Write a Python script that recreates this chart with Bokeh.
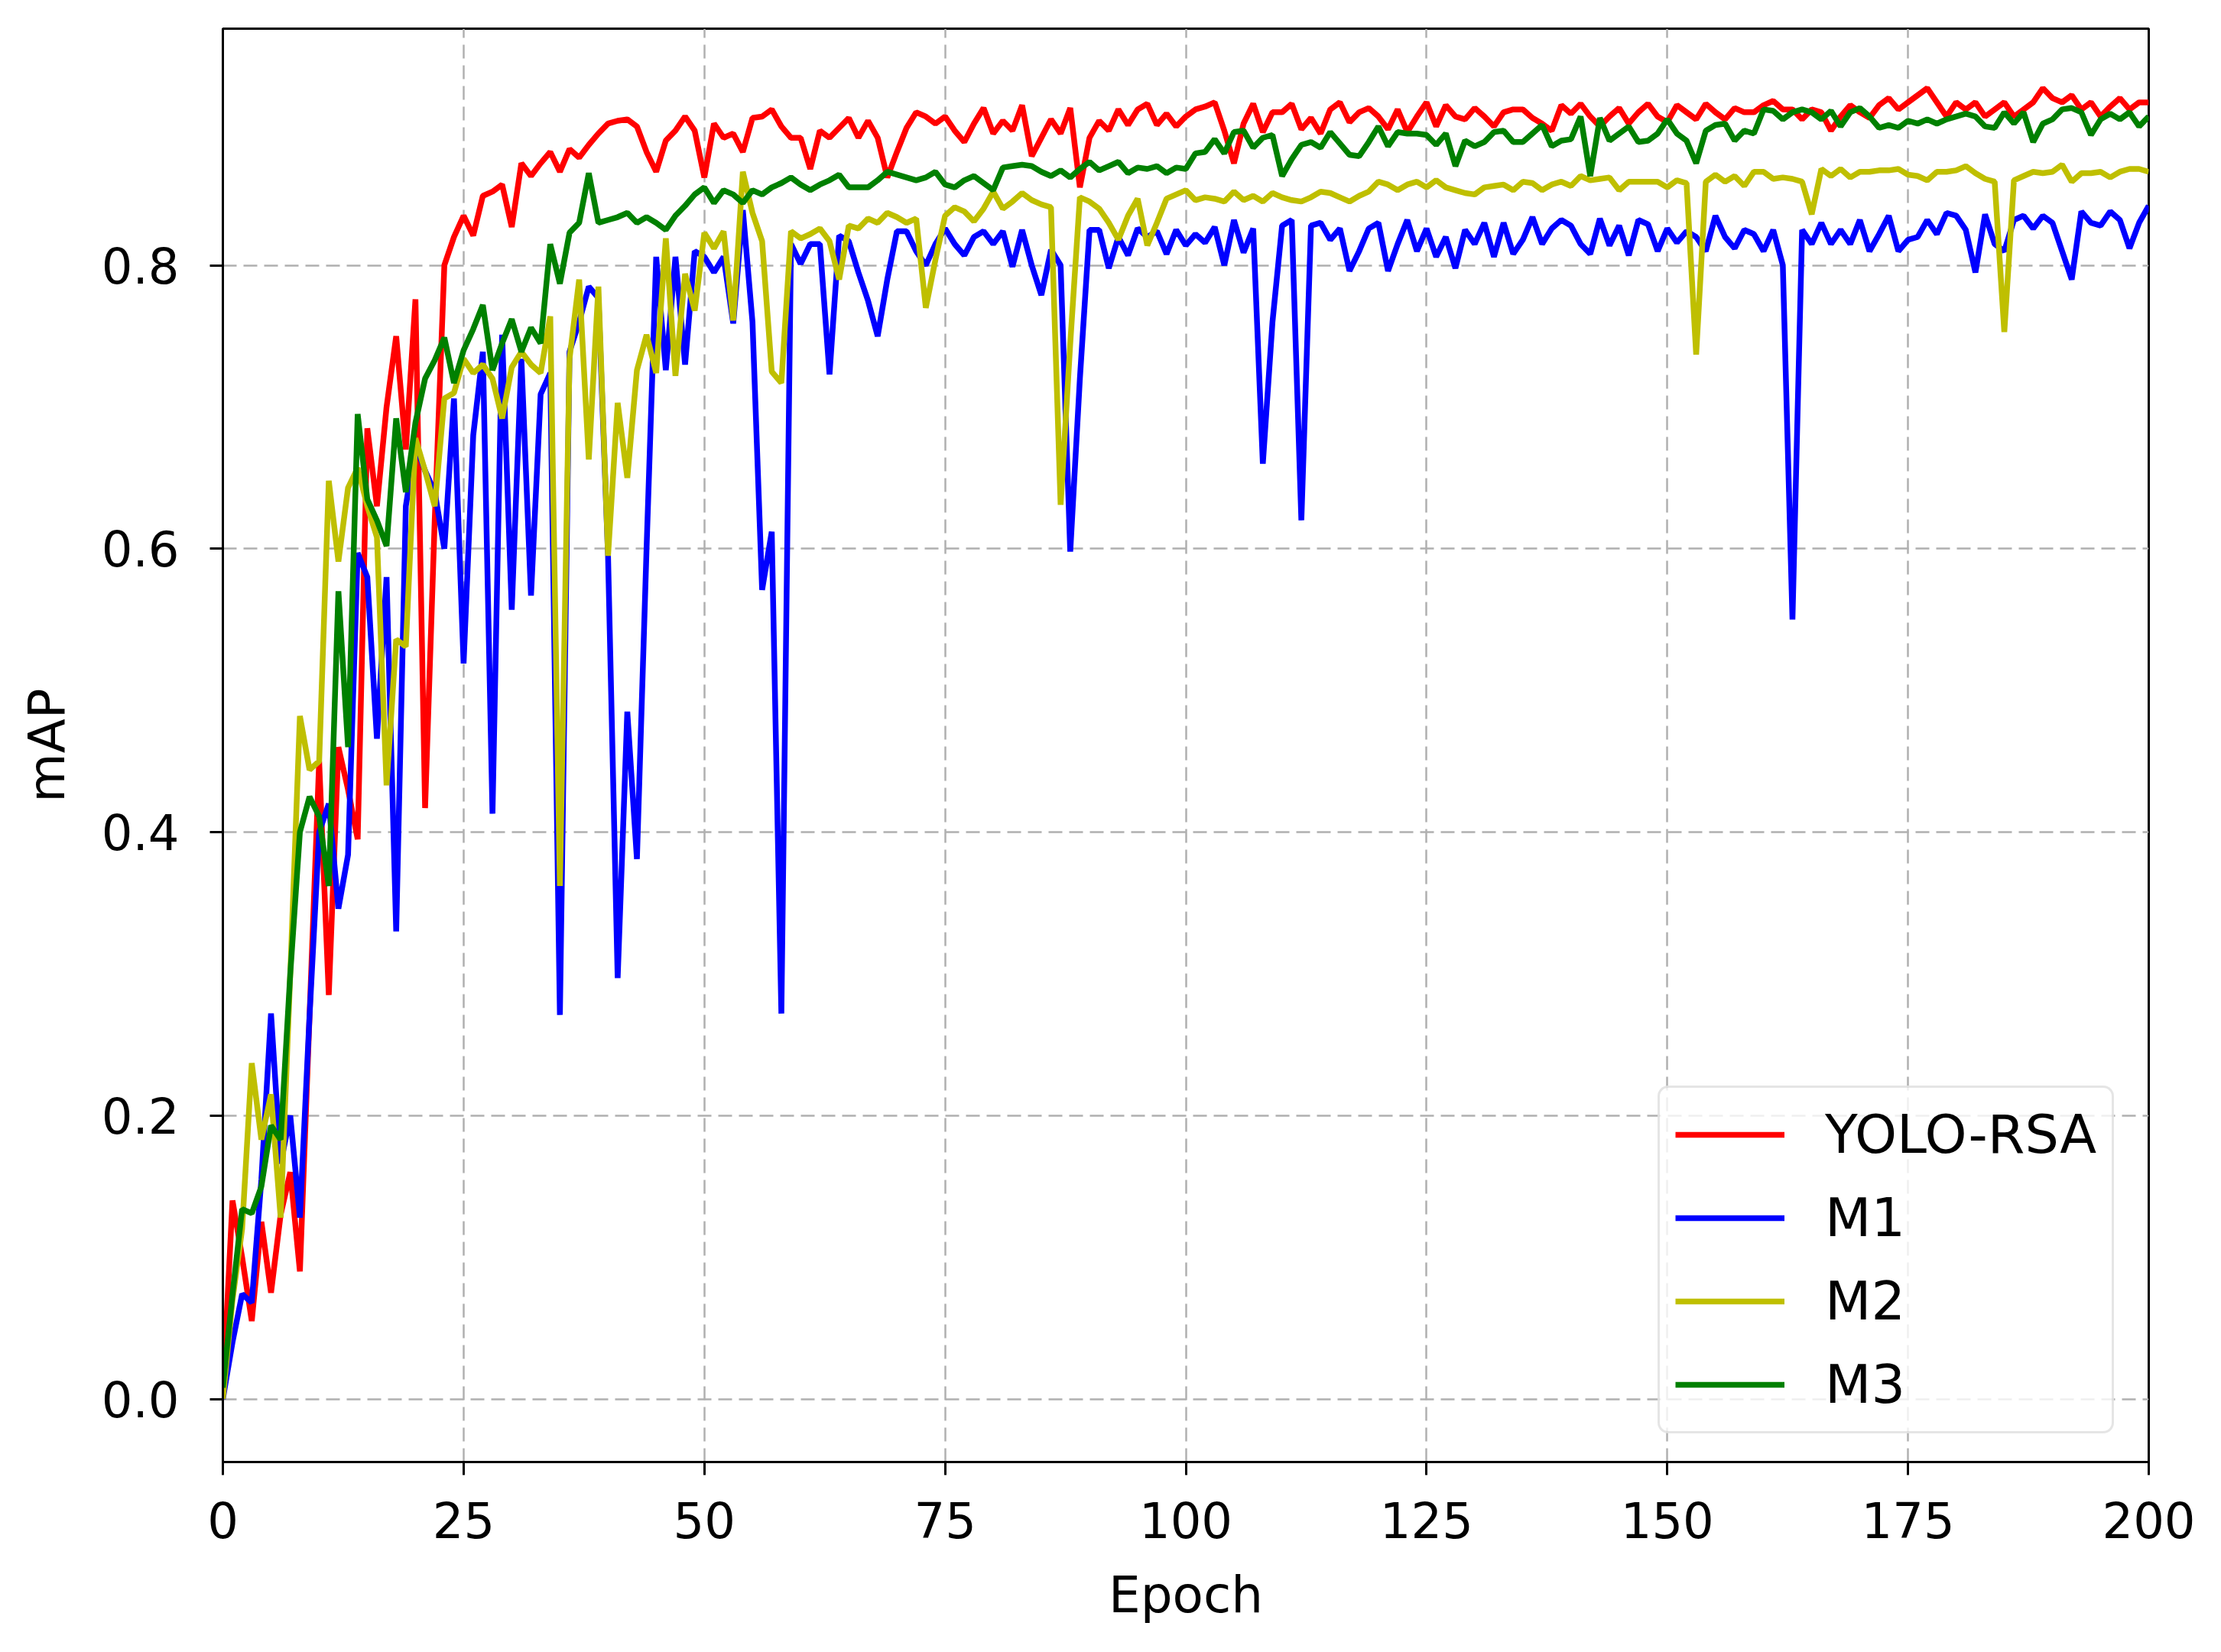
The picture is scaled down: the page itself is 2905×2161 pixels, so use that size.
from bokeh.plotting import figure
from bokeh.models import Range1d, FixedTicker, PrintfTickFormatter
from bokeh.embed import file_html
from bokeh.resources import INLINE

epochs = list(range(201))

yolo_rsa = [
    0.005, 0.14, 0.10, 0.055, 0.125, 0.075, 0.13, 0.16, 0.09, 0.27,
    0.45, 0.285, 0.46, 0.43, 0.395, 0.685, 0.63, 0.70, 0.75, 0.67,
    0.776, 0.417, 0.62, 0.80, 0.82, 0.835, 0.821, 0.849, 0.852, 0.857,
    0.827, 0.872, 0.863, 0.872, 0.88, 0.866, 0.882, 0.876, 0.885, 0.893,
    0.90, 0.902, 0.903, 0.898, 0.88, 0.866, 0.888, 0.895, 0.905, 0.895,
    0.862, 0.90, 0.89, 0.893, 0.88, 0.904, 0.905, 0.91, 0.898, 0.89,
    0.89, 0.868, 0.895, 0.89, 0.897, 0.904, 0.89, 0.902, 0.89, 0.862,
    0.88, 0.897, 0.908, 0.905, 0.90, 0.905, 0.895, 0.887, 0.90, 0.911,
    0.893, 0.902, 0.895, 0.913, 0.877, 0.89, 0.903, 0.893, 0.911, 0.855,
    0.89, 0.902, 0.895, 0.91, 0.899, 0.91, 0.914, 0.899, 0.907, 0.898,
    0.905, 0.91, 0.912, 0.915, 0.895, 0.872, 0.90, 0.914, 0.894, 0.908,
    0.908, 0.914, 0.896, 0.904, 0.893, 0.91, 0.915, 0.901, 0.908, 0.911,
    0.905, 0.896, 0.91, 0.894, 0.905, 0.915, 0.898, 0.913, 0.905, 0.903,
    0.911, 0.905, 0.898, 0.908, 0.91, 0.91, 0.904, 0.90, 0.895, 0.913,
    0.907, 0.914, 0.905, 0.898, 0.905, 0.911, 0.90, 0.908, 0.914, 0.905,
    0.901, 0.913, 0.908, 0.903, 0.914, 0.908, 0.903, 0.911, 0.908, 0.908,
    0.913, 0.916, 0.91, 0.91, 0.903, 0.91, 0.908, 0.895, 0.905, 0.913,
    0.908, 0.904, 0.913, 0.918, 0.91, 0.915, 0.92, 0.925, 0.915, 0.905,
    0.915, 0.91, 0.915, 0.905, 0.91, 0.915, 0.905, 0.91, 0.915, 0.925,
    0.918, 0.915, 0.92, 0.91, 0.915, 0.905, 0.912, 0.918, 0.91, 0.915,
    0.915,
]

m1 = [
    0.0, 0.04, 0.074, 0.068, 0.155, 0.272, 0.166, 0.20, 0.128, 0.27,
    0.40, 0.42, 0.346, 0.384, 0.597, 0.58, 0.466, 0.58, 0.33, 0.63,
    0.673, 0.655, 0.64, 0.60, 0.706, 0.519, 0.68, 0.739, 0.413, 0.751,
    0.557, 0.734, 0.567, 0.709, 0.724, 0.271, 0.739, 0.76, 0.785, 0.777,
    0.595, 0.297, 0.485, 0.381, 0.60, 0.806, 0.726, 0.806, 0.73, 0.81,
    0.806, 0.795, 0.806, 0.759, 0.839, 0.76, 0.571, 0.612, 0.272, 0.815,
    0.801, 0.815, 0.815, 0.723, 0.821, 0.817, 0.795, 0.775, 0.75, 0.79,
    0.824, 0.824, 0.81, 0.80, 0.815, 0.826, 0.815, 0.807, 0.82, 0.824,
    0.815, 0.824, 0.799, 0.825, 0.80, 0.779, 0.811, 0.80, 0.598, 0.72,
    0.825, 0.825, 0.798, 0.82, 0.807, 0.826, 0.82, 0.824, 0.808, 0.825,
    0.814, 0.822, 0.816, 0.827, 0.80, 0.832, 0.809, 0.826, 0.66, 0.76,
    0.828, 0.832, 0.62, 0.828, 0.83, 0.818, 0.826, 0.796, 0.81, 0.826,
    0.83, 0.796, 0.815, 0.832, 0.81, 0.826, 0.806, 0.82, 0.798, 0.825,
    0.815, 0.83, 0.806, 0.83, 0.808, 0.818, 0.834, 0.815, 0.826, 0.832,
    0.828, 0.815, 0.808, 0.833, 0.814, 0.828, 0.807, 0.832, 0.829, 0.81,
    0.826, 0.816, 0.824, 0.82, 0.81, 0.835, 0.82, 0.812, 0.825, 0.822,
    0.81, 0.825, 0.80, 0.55, 0.825, 0.815, 0.83, 0.815, 0.825, 0.815,
    0.832, 0.81, 0.822, 0.835, 0.81, 0.818, 0.82, 0.832, 0.822, 0.837,
    0.835, 0.825, 0.795, 0.836, 0.815, 0.81, 0.832, 0.835, 0.826, 0.835,
    0.83, 0.81, 0.79, 0.838, 0.83, 0.828, 0.838, 0.832, 0.812, 0.83,
    0.842,
]

m2 = [
    0.0, 0.07, 0.12, 0.237, 0.183, 0.215, 0.128, 0.30, 0.482, 0.444,
    0.45, 0.648, 0.591, 0.643, 0.657, 0.63, 0.608, 0.433, 0.536, 0.531,
    0.678, 0.655, 0.63, 0.706, 0.71, 0.734, 0.724, 0.73, 0.72, 0.692,
    0.728, 0.739, 0.73, 0.724, 0.764, 0.362, 0.734, 0.79, 0.663, 0.785,
    0.595, 0.703, 0.65, 0.726, 0.751, 0.724, 0.819, 0.722, 0.794, 0.768,
    0.823, 0.812, 0.824, 0.761, 0.866, 0.837, 0.817, 0.725, 0.717, 0.824,
    0.819, 0.822, 0.826, 0.817, 0.79, 0.828, 0.826, 0.833, 0.83, 0.837,
    0.834, 0.83, 0.833, 0.77, 0.804, 0.835, 0.841, 0.838, 0.831, 0.84,
    0.852, 0.84, 0.845, 0.851, 0.846, 0.843, 0.841, 0.631, 0.745, 0.848,
    0.845, 0.84, 0.83, 0.818, 0.835, 0.847, 0.814, 0.83, 0.847, 0.85,
    0.853, 0.846, 0.848, 0.847, 0.845, 0.852, 0.846, 0.849, 0.845, 0.851,
    0.848, 0.846, 0.845, 0.848, 0.852, 0.851, 0.848, 0.845, 0.849, 0.852,
    0.859, 0.857, 0.853, 0.857, 0.859, 0.855, 0.86, 0.855, 0.853, 0.851,
    0.85, 0.855, 0.856, 0.857, 0.853, 0.859, 0.858, 0.853, 0.857, 0.859,
    0.856, 0.863, 0.86, 0.861, 0.862, 0.853, 0.859, 0.859, 0.859, 0.859,
    0.855, 0.86, 0.858, 0.737, 0.859, 0.864, 0.859, 0.863, 0.856, 0.866,
    0.866, 0.861, 0.862, 0.861, 0.859, 0.836, 0.868, 0.863, 0.868, 0.862,
    0.866, 0.866, 0.867, 0.867, 0.868, 0.864, 0.863, 0.86, 0.866, 0.866,
    0.867, 0.87, 0.865, 0.861, 0.859, 0.753, 0.86, 0.863, 0.866, 0.865,
    0.866, 0.871, 0.859, 0.865, 0.865, 0.866, 0.862, 0.866, 0.868, 0.868,
    0.866,
]

m3 = [
    0.008, 0.074, 0.134, 0.131, 0.15, 0.193, 0.183, 0.30, 0.40, 0.425,
    0.411, 0.362, 0.57, 0.46, 0.695, 0.635, 0.62, 0.602, 0.692, 0.64,
    0.689, 0.72, 0.733, 0.749, 0.717, 0.74, 0.755, 0.772, 0.726, 0.745,
    0.762, 0.739, 0.756, 0.745, 0.815, 0.787, 0.823, 0.83, 0.865, 0.83,
    0.832, 0.834, 0.837, 0.83, 0.834, 0.83, 0.825, 0.835, 0.842, 0.85,
    0.855, 0.844, 0.853, 0.85, 0.844, 0.853, 0.85, 0.855, 0.858, 0.862,
    0.857, 0.853, 0.857, 0.86, 0.864, 0.855, 0.855, 0.855, 0.86, 0.866,
    0.864, 0.862, 0.86, 0.862, 0.866, 0.857, 0.855, 0.86, 0.863, 0.858,
    0.853, 0.869, 0.87, 0.871, 0.87, 0.866, 0.863, 0.867, 0.862, 0.868,
    0.873, 0.867, 0.87, 0.873, 0.865, 0.869, 0.868, 0.87, 0.865, 0.869,
    0.868, 0.879, 0.88, 0.889, 0.879, 0.894, 0.895, 0.883, 0.89, 0.892,
    0.863, 0.875, 0.885, 0.887, 0.883, 0.894, 0.886, 0.878, 0.877, 0.887,
    0.898, 0.884, 0.894, 0.893, 0.893, 0.892, 0.885, 0.893, 0.87, 0.888,
    0.884, 0.887, 0.894, 0.895, 0.887, 0.887, 0.893, 0.899, 0.884, 0.888,
    0.889, 0.905, 0.863, 0.904, 0.888, 0.893, 0.898, 0.887, 0.888, 0.893,
    0.903, 0.893, 0.888, 0.872, 0.895, 0.899, 0.90, 0.888, 0.895, 0.893,
    0.91, 0.909, 0.903, 0.908, 0.91, 0.908, 0.903, 0.909, 0.898, 0.908,
    0.911, 0.905, 0.897, 0.899, 0.897, 0.902, 0.90, 0.903, 0.90, 0.903,
    0.905, 0.907, 0.905, 0.898, 0.897, 0.908, 0.90, 0.908, 0.887, 0.90,
    0.903, 0.91, 0.911, 0.908, 0.892, 0.903, 0.907, 0.903, 0.908, 0.898,
    0.905,
]

series_names = ["YOLO-RSA", "M1", "M2", "M3"]
series_colors = ["#ff0000", "#0000ff", "#bfbf00", "#008000"]
x_ticks = [0, 25, 50, 75, 100, 125, 150, 175, 200]
y_ticks = [0.0, 0.2, 0.4, 0.6, 0.8]

FONT = "DejaVu Sans"

p = figure(
    width=2889, height=2145,
    frame_width=2519, frame_height=1875,
    min_border_left=291, min_border_right=79,
    min_border_top=37, min_border_bottom=233,
    x_range=Range1d(0, 200), y_range=Range1d(-0.0445, 0.967),
    output_backend="svg", toolbar_location=None,
)
p.background_fill_color = "white"
p.border_fill_color = "white"
p.outline_line_color = "black"
p.outline_line_width = 3

for name, col, vals in zip(series_names, series_colors, [yolo_rsa, m1, m2, m3]):
    p.line(epochs, vals, line_color=col, line_width=7.5, legend_label=name)

for ax in (p.xaxis[0], p.yaxis[0]):
    ax.axis_line_color = "black"
    ax.axis_line_width = 3
    ax.major_tick_line_width = 3
    ax.major_tick_line_color = "black"
    ax.major_tick_out = 17
    ax.major_tick_in = 0
    ax.minor_tick_line_color = None
    ax.major_label_text_font = FONT
    ax.major_label_text_font_size = "64px"
    ax.major_label_text_color = "black"
    ax.axis_label_text_font = FONT
    ax.axis_label_text_font_size = "66px"
    ax.axis_label_text_font_style = "normal"
    ax.axis_label_text_color = "black"

p.xaxis.ticker = FixedTicker(ticks=x_ticks)
p.yaxis.ticker = FixedTicker(ticks=y_ticks)
p.xaxis.formatter = PrintfTickFormatter(format="%d")
p.yaxis.formatter = PrintfTickFormatter(format="%.1f")
p.xaxis.axis_label = "Epoch"
p.yaxis.axis_label = "mAP"
p.xaxis.major_label_standoff = 35
p.yaxis.major_label_standoff = 40
p.xaxis.axis_label_standoff = 33
p.yaxis.axis_label_standoff = 30

for g in (p.xgrid[0], p.ygrid[0]):
    g.grid_line_color = "#b0b0b0"
    g.grid_line_width = 2.5
    g.grid_line_dash = "18 9"

lg = p.legend[0]
lg.location = (1877, 37)
lg.margin = 0
lg.padding = 20
lg.spacing = 27
lg.glyph_width = 143
lg.glyph_height = 60
lg.label_height = 69
lg.label_standoff = 53
lg.label_text_font = FONT
lg.label_text_font_size = "70px"
lg.label_text_color = "black"
lg.background_fill_color = "white"
lg.background_fill_alpha = 0.8
lg.border_line_color = "#cccccc"
lg.border_line_width = 3
lg.border_radius = 14

open("out.html", "w").write(file_html(p, INLINE))
